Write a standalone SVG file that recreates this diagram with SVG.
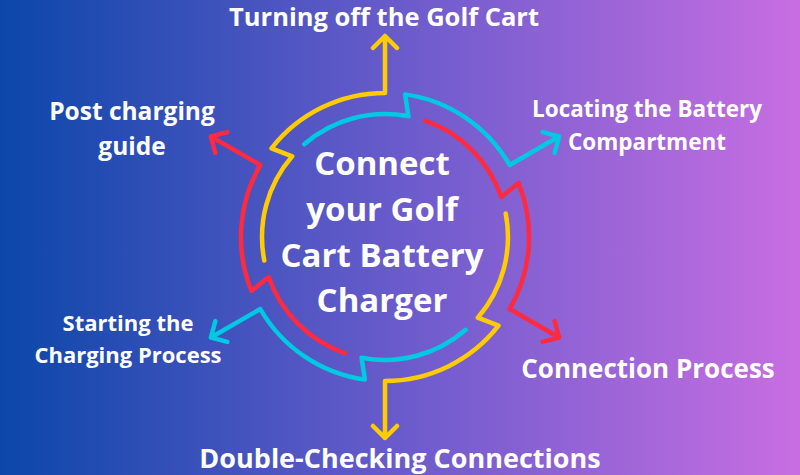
<svg xmlns="http://www.w3.org/2000/svg" width="800" height="475" viewBox="0 0 800 475">
<defs>
<linearGradient id="bg" x1="0" y1="0" x2="1" y2="0">
<stop offset="0" stop-color="#0b47a9"/><stop offset="0.5" stop-color="#6a5bcc"/><stop offset="1" stop-color="#c86ee2"/>
</linearGradient>
<path id="seg" d="M264.3,260.5 A123,123 0 0 1 292.2,156.3 L271.5,148.3 A144,144 0 0 1 385,93 L385,36 M373,48 L385,36 L397,48"/>
</defs>
<style>
.s{fill:none;stroke-width:4.5;stroke-linecap:round;stroke-linejoin:round}
.y{stroke:#ffcc00}.c{stroke:#00c9e4}.r{stroke:#ff2a3f}
text{font-family:"Open Sans","Liberation Sans",sans-serif;font-weight:700;fill:#fff;text-anchor:middle}
</style>
<rect width="800" height="475" fill="url(#bg)"/>
<g id="connectors">
<use href="#seg" class="s y"/>
<use href="#seg" class="s c" transform="rotate(60 385 237)"/>
<use href="#seg" class="s r" transform="rotate(120 385 237)"/>
<use href="#seg" class="s y" transform="rotate(180 385 237)"/>
<use href="#seg" class="s c" transform="rotate(240 385 237)"/>
<use href="#seg" class="s r" transform="rotate(300 385 237)"/>
</g>
<g id="center" font-size="33">
<text x="382" y="175">Connect</text>
<text x="382" y="221">your Golf</text>
<text x="382" y="267">Cart Battery</text>
<text x="382" y="312">Charger</text>
</g>
<g id="n1"><text x="384" y="26" font-size="25.5">Turning off the Golf Cart</text></g>
<g id="n2" font-size="22.5"><text x="647" y="117">Locating the Battery</text><text x="647" y="150">Compartment</text></g>
<g id="n3"><text x="648" y="378" font-size="26">Connection Process</text></g>
<g id="n4"><text x="400" y="468" font-size="27">Double-Checking Connections</text></g>
<g id="n5" font-size="22"><text x="128" y="331">Starting the</text><text x="128" y="363">Charging Process</text></g>
<g id="n6" font-size="24.5"><text x="132" y="120">Post charging</text><text x="132" y="155">guide</text></g>
</svg>
